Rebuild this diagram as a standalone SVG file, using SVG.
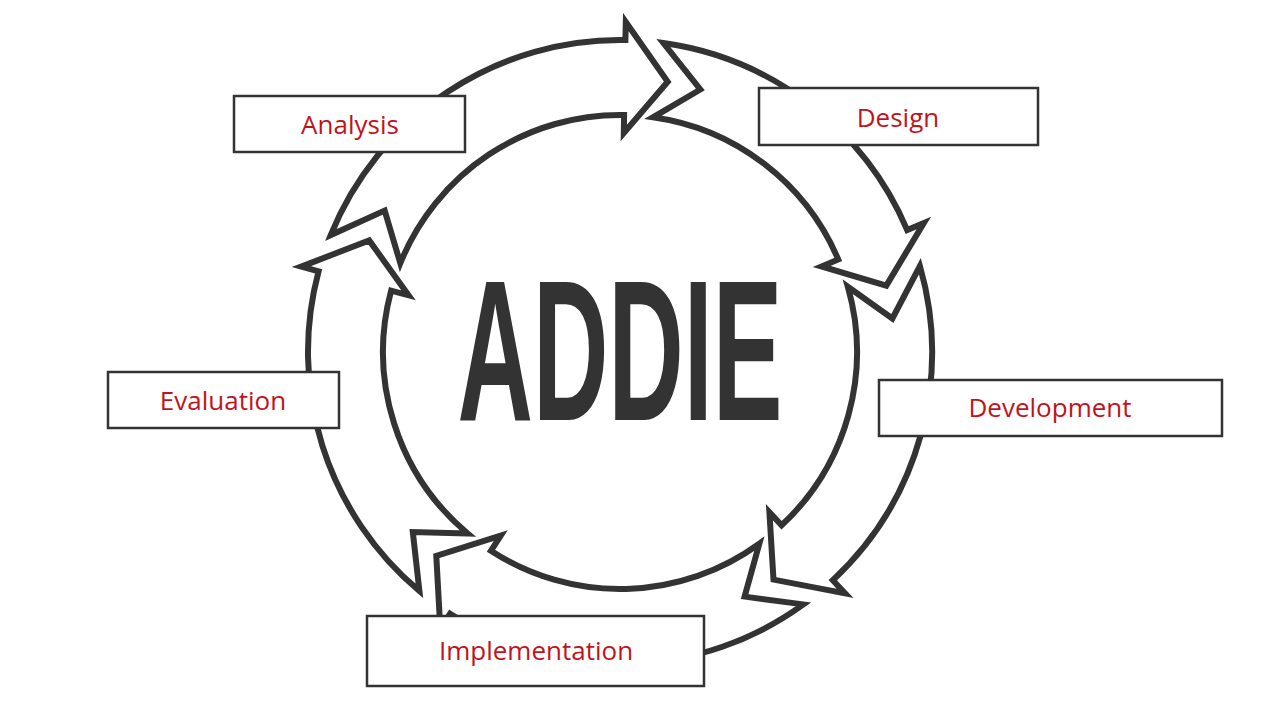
<svg xmlns="http://www.w3.org/2000/svg" width="1280" height="720" viewBox="0 0 1280 720">
<style>
.seg{fill:#fff;stroke:#333;stroke-width:6;stroke-linejoin:miter}
.box{fill:#fff;stroke:#333;stroke-width:2.5}
.lbl{font-family:"Open Sans","Liberation Sans",sans-serif;font-size:26px;fill:#c0141c;text-anchor:middle}
.big{font-family:"Liberation Sans",sans-serif;font-weight:bold;font-size:200px;fill:#333;text-anchor:middle}
</style>
<rect width="1280" height="720" fill="#fff"/>
<g id="connectors">
<path class="seg" d="M330.7,235.1 A312,312 0 0 1 625.4,40 L625.8,22 L667.7,81.7 L623.8,133 L624.1,115 A237,237 0 0 0 400.3,263.2 L384.7,210.6 Z"/>
<path class="seg" d="M663.4,43 A312,312 0 0 1 907.2,230.1 L923.8,223.1 L886.3,285.6 L821.6,266.4 L838.2,259.4 A237,237 0 0 0 653,117.3 L700.3,89.5 Z"/>
<path class="seg" d="M919.9,266 A312,312 0 0 1 832.8,580.2 L845.1,593.4 L773.5,579.6 L769.4,512.2 L781.6,525.3 A237,237 0 0 0 847.8,286.7 L892.4,318.5 Z"/>
<path class="seg" d="M803.4,604.4 A312,312 0 0 1 450.1,613.7 L440.3,628.8 L436.3,556 L500.7,535.7 L490.9,550.8 A237,237 0 0 0 759.3,543.7 L744.6,596.6 Z"/>
<path class="seg" d="M419.4,591 A312,312 0 0 1 318.6,271.3 L301.3,266.6 L369.2,240.4 L408.5,295.3 L391.1,290.7 A237,237 0 0 0 467.7,533.5 L412.8,532.1 Z"/>
</g>
<g id="center"><text class="big" x="620" y="420" textLength="325" lengthAdjust="spacingAndGlyphs">ADDIE</text></g>
<g id="analysis"><rect class="box" x="234" y="96" width="231" height="56"/><text class="lbl" x="350" y="134">Analysis</text></g>
<g id="design"><rect class="box" x="759" y="88" width="279" height="57"/><text class="lbl" x="898" y="127">Design</text></g>
<g id="development"><rect class="box" x="879" y="380" width="343" height="56"/><text class="lbl" x="1050" y="417">Development</text></g>
<g id="evaluation"><rect class="box" x="108" y="372" width="231" height="56"/><text class="lbl" x="223" y="410">Evaluation</text></g>
<g id="implementation"><rect class="box" x="367" y="616" width="337" height="70"/><text class="lbl" x="536" y="660">Implementation</text></g>
</svg>
